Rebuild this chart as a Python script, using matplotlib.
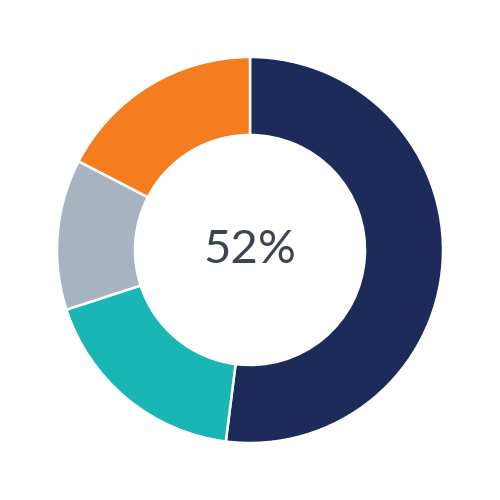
import matplotlib.pyplot as plt

labels = ['Navy', 'Teal', 'Gray', 'Orange']
values = [52, 18, 12.6, 17.4]
colors = ['#1c2b5a', '#1ab5b5', '#a8b3c1', '#f47d20']
center_text = '52%'

fig = plt.figure(figsize=(5, 5), dpi=100)
ax = fig.add_axes([0, 0, 1, 1])

ax.pie(values, colors=colors, startangle=90, counterclock=False,
       radius=193, wedgeprops=dict(width=78, edgecolor='white', linewidth=1.8))
ax.text(0, 0, center_text, ha='center', va='center', fontsize=34,
        color='#3d4450', family=['Lato', 'DejaVu Sans'])

ax.set_xlim(-250, 250)
ax.set_ylim(-250, 250)
ax.set_aspect('equal')
ax.axis('off')

fig.savefig('out.png', dpi=100, facecolor='white')
